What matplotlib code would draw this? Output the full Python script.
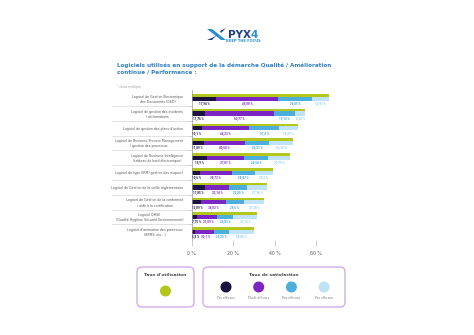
import matplotlib
matplotlib.use("Agg")
import matplotlib.pyplot as plt
from matplotlib.patches import FancyBboxPatch, Circle, Polygon
import numpy as np

plt.rcParams["font.family"] = ["DejaVu Sans"]

categories = [
    "Logiciel de Gestion Électronique\ndes Documents (GED)",
    "Logiciel de gestion des incidents\n/ réclamations",
    "Logiciel de gestion des plans d'action",
    "Logiciel de Business Process Management\n/ gestion des processus",
    "Logiciel de Business Intelligence\n(tableau de bord électronique)",
    "Logiciel de type ERM (gestion des risques)",
    "Logiciel de Gestion de la veille réglementaire",
    "Logiciel de Gestion de la conformité\n/ aide à la certification",
    "Logiciel QHSE\n(Qualité Hygiène Sécurité Environnement)",
    "Logiciel d'animation des processus\n(BPMS, etc...)",
]
usage = [66.5, 54.6, 51.4, 48.8, 47.4, 39.2, 36.6, 35.0, 31.8, 29.9]
tres_efficace = [17.94, 11.76, 10.1, 11.89, 15.9, 10.6, 17.85, 13.09, 7.75, 5.8]
plutot_efficace = [45.08, 60.77, 44.23, 40.68, 37.81, 38.73, 32.14, 34.03, 31.09, 30.1]
peu_efficace = [24.05, 19.13, 27.4, 24.31, 24.54, 28.47, 22.85, 25.5, 24.03, 25.25]
pas_efficace = [12.93, 8.34, 18.27, 23.12, 21.75, 22.2, 27.16, 27.38, 37.13, 38.85]
sat_names = ["Très efficace", "Plutôt efficace", "Peu efficace", "Pas efficace"]
x_ticks = [0, 20, 40, 60]

green = "#b3c61a"
seg_colors = ["#1c1242", "#7a25c4", "#4eaedb", "#bfe2f6"]
lab_colors = ["#1c1242", "#7a25c4", "#3f9fd2", "#8ccbec"]

W, H = 474, 335
fig = plt.figure(figsize=(W / 100, H / 100), dpi=100)
fig.patch.set_facecolor("white")

ov = fig.add_axes([0, 0, 1, 1], zorder=0)
ov.set_xlim(0, W)
ov.set_ylim(H, 0)
ov.axis("off")

# logo
ov.add_patch(Polygon([[207, 29], [212, 29], [226, 40], [221, 40]], closed=True, color="#2a8fd6", lw=0))
ov.add_patch(Polygon([[214, 37], [218, 34], [212, 40], [207, 40]], closed=True, color="#1d3f86", lw=0))
ov.add_patch(Polygon([[220, 31], [226, 28], [221, 33]], closed=True, color="#1d3f86", lw=0))
ov.text(228, 34.5, "PYX", fontsize=7.5, fontweight="bold", color="#1d3f86", ha="left", va="center")
ov.text(251, 34.5, "4", fontsize=7.5, fontweight="bold", color="#2a8fd6", ha="left", va="center")
ov.text(243, 41.5, "KEEP THE FOCUS", fontsize=2.6, fontweight="bold", color="#2a8fd6", ha="center",
        va="center")

# title
ov.text(117, 68.5, "Logiciels utilisés en support de la démarche Qualité / Amélioration\ncontinue / Performance :",
        fontsize=4.05, fontweight="bold", color="#2f7fc1", ha="left", va="center", linespacing=1.25)
ov.text(117, 87, "* choix multiple", fontsize=2.2, color="#999999", ha="left", va="center")

# main axes
px_per_unit = 2.075
x0_px, y_top, y_bot = 191.5, 90.5, 240
xmax = 70
ax = fig.add_axes([x0_px / W, 1 - y_bot / H, xmax * px_per_unit / W, (y_bot - y_top) / H], zorder=2)
ax.set_facecolor("none")
n = len(categories)
ypos = np.arange(n)
ax.set_xlim(0, xmax)
ax.set_ylim(n - 0.45, -0.55)

pitch = (y_bot - y_top) / (n + 0.1)
h_stack = 4.2 / pitch
h_green = 2.6 / pitch
off_green = (h_stack / 2 + h_green / 2)

ax.barh(ypos - off_green, usage, height=h_green, color=green, lw=0)
sat = np.array([tres_efficace, plutot_efficace, peu_efficace, pas_efficace])
use = np.array(usage)
left = np.zeros(n)
centers = []
for k in range(4):
    w = sat[k] * use / 100.0
    ax.barh(ypos, w, left=left, height=h_stack, color=seg_colors[k], lw=0)
    centers.append(left + w / 2)
    left = left + w

renderer = fig.canvas.get_renderer()
for i in range(n):
    prev_right = 0.0
    for k in range(4):
        txt = f"{sat[k][i]:g}".replace(".", ",") + " %"
        t = ax.text(centers[k][i], i + 0.36, txt, fontsize=2.2, fontweight="bold", color=lab_colors[k],
                    ha="center", va="center", family=["Roboto", "DejaVu Sans"])
        bb = t.get_window_extent(renderer)
        half = (bb.width / px_per_unit) / 2
        xc = max(centers[k][i], prev_right + (1.2 if k else 0) + half)
        t.set_x(xc)
        prev_right = xc + half

for i, c in enumerate(categories):
    ax.text(-4.0, i + 0.05, c, fontsize=2.3, color="#555555", ha="right", va="center",
            linespacing=1.35, multialignment="center")

tr = ax.get_yaxis_transform()
for b in np.arange(n - 1) + 0.5:
    ax.plot([-0.55, 0], [b, b], transform=tr, color="#d5d5d5", lw=0.5, clip_on=False)

ax.set_xticks(x_ticks)
ax.set_xticklabels([f"{t} %" for t in x_ticks], fontsize=3.3, color="#555555")
ax.tick_params(axis="x", length=4, width=0.5, color="#bbbbbb", pad=4)
ax.set_yticks(np.arange(n - 1) + 0.5)
ax.set_yticklabels([])
ax.tick_params(axis="y", length=2.5, width=0.5, color="#999999")
for s in ["top", "right", "bottom"]:
    ax.spines[s].set_visible(False)
ax.spines["left"].set_color("#999999")
ax.spines["left"].set_linewidth(0.5)

border = "#c9a6ea"
ov.add_patch(FancyBboxPatch((137, 267), 57, 40, boxstyle="round,pad=0,rounding_size=5",
                            fc="white", ec=border, lw=0.9))
ov.add_patch(FancyBboxPatch((203, 267), 142, 40, boxstyle="round,pad=0,rounding_size=5",
                            fc="white", ec=border, lw=0.9))
ov.text(165.5, 274.5, "Taux d'utilisation", fontsize=3.2, fontweight="bold", color="#444444",
        ha="center", va="center")
ov.text(274, 274.5, "Taux de satisfaction", fontsize=3.2, fontweight="bold", color="#444444",
        ha="center", va="center")
ov.add_patch(Circle((165.5, 291), 5.5, color=green, lw=0))
for j, (nm, col) in enumerate(zip(sat_names, seg_colors)):
    cx = 226 + j * 32.7
    ov.add_patch(Circle((cx, 287), 5.5, color=col, lw=0))
    ov.text(cx, 298, nm, fontsize=2.2, color="#777777", ha="center", va="center")

fig.savefig("out.png", dpi=100, facecolor="white")
